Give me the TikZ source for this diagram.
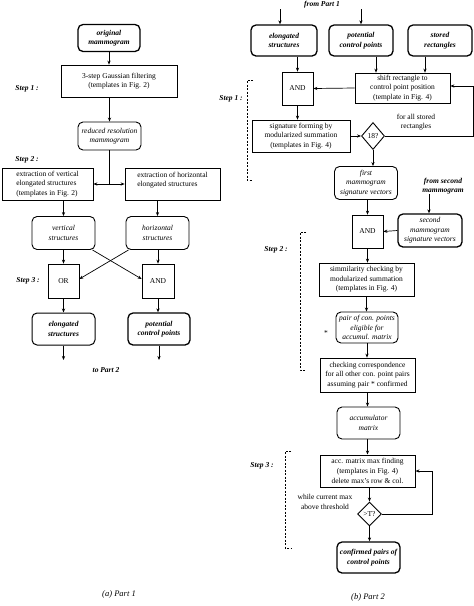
\documentclass[tikz,border=0pt]{standalone}
\usepackage{fontspec}
\setmainfont{Liberation Serif}
\usetikzlibrary{shapes.geometric,arrows.meta}
\begin{document}
\begin{tikzpicture}[x=1pt,y=-1pt,
  txt/.style={font=\fontsize{7.5}{9.6}\selectfont},
  sz/.style 2 args={minimum width=#1pt,minimum height=#2pt},
  sbox/.style={draw,align=center,inner sep=1pt,line width=0.7pt,txt},
  rbox/.style={draw,align=center,inner sep=1pt,rounded corners=5pt,line width=0.9pt,font=\fontsize{7.5}{9.6}\selectfont\itshape},
  rboxb/.style={rbox,line width=1.3pt,font=\fontsize{7.5}{9.6}\selectfont\bfseries\itshape},
  dia/.style={draw,diamond,inner sep=0pt,line width=0.9pt,txt},
  lab/.style={font=\fontsize{7.5}{9}\selectfont\bfseries\itshape,align=center},
  ilab/.style={font=\fontsize{7.5}{9}\selectfont\itshape,align=center},
  plab/.style={txt,align=center},
  arr/.style={-{Stealth[length=4pt,width=3.2pt]},line width=0.7pt},
  ln/.style={line width=0.7pt},
  brk/.style={line width=0.7pt,dash pattern=on 2pt off 1.5pt}
]
\useasboundingbox (0,0) rectangle (474,606);

% ---------------- Part 1 ----------------
\node[rboxb,sz={62}{27}] (orig) at (109,38) {original\\mammogram};
\node[sbox,sz={116}{32}] (gauss) at (119,81) {3-step Gaussian filtering\\(templates in Fig. 2)};
\node[rbox,sz={63}{28}] (reduced) at (109.5,136) {reduced resolution\\mammogram};
\node[sbox,sz={91}{32},align=left] (extV) at (47.5,184) {extraction of vertical\\elongated structures\\(templates in Fig. 2)};
\node[sbox,sz={95}{32},align=left] (extH) at (172.5,184) {extraction of horizontal\\elongated structures\\\mbox{}};
\node[rbox,sz={63}{33}] (vert) at (63.5,233) {vertical\\structures};
\node[rbox,sz={63}{33}] (horiz) at (157.5,233) {horizontal\\structures};
\node[sbox,sz={31}{34}] (OR) at (63.5,281) {OR};
\node[sbox,sz={32}{34}] (AND) at (158,281) {AND};
\node[rboxb,sz={63}{32},line width=1pt] (elong) at (63.5,329) {elongated\\structures};
\node[rboxb,sz={62}{32}] (pcp) at (159,329) {potential\\control points};

\node[lab] (s1) at (27,89) {Step 1 :};
\node[lab] (s2) at (27,160) {Step 2 :};
\node[lab] (s3) at (28,281) {Step 3 :};
\node[lab] (toP2) at (106,370) {to Part 2};
\node[lab,font=\fontsize{8.5}{10}\selectfont\itshape] (capA) at (119,594) {(a) Part 1};

\coordinate (j1) at (109.5,184);
\coordinate (o1) at (63.5,360);
\coordinate (o2) at (159,360);

\draw[arr] (orig.south) -- (orig.south |- gauss.north);
\draw[arr] (reduced.north |- gauss.south) -- (reduced.north);
\draw[ln] (reduced.south) -- (j1);
\draw[arr] (j1) -- (extV.east);
\draw[arr] (j1) -- (extH.west);
\draw[arr] (vert.north |- extV.south) -- (vert.north);
\draw[arr] (horiz.north |- extH.south) -- (horiz.north);
\draw[arr] (vert.south) -- (OR.north);
\draw[arr] (AND.north |- horiz.south) -- (AND.north);
\draw[arr] ([xshift=-3pt]vert.south east) -- ([yshift=2pt]AND.west);
\draw[arr] ([xshift=3pt]horiz.south west) -- ([yshift=2pt]OR.east);
\draw[arr] (OR.south) -- (elong.north);
\draw[arr] (AND.south) -- (AND.south |- pcp.north);
\draw[arr] (elong.south) -- (o1);
\draw[arr] (pcp.south) -- (o2);

% ---------------- Part 2 ----------------
\node[lab] (fromP1) at (322,4.5) {from Part 1};
\coordinate (fp1) at (280,9);
\coordinate (fp2) at (361,9);

\node[rboxb,sz={66}{31}] (elongR) at (284,40.5) {elongated\\structures};
\node[rboxb,sz={64}{31}] (potR) at (361,40.5) {potential\\control points};
\node[rboxb,sz={64}{31}] (stored) at (440,40.5) {stored\\rectangles};
\node[sbox,sz={31}{33}] (AND1) at (297.5,88.5) {AND};
\node[sbox,sz={95}{30}] (shift) at (402.5,88) {shift rectangle to\\control point position\\(template in Fig. 4)};
\node[sbox,sz={98}{32}] (sig) at (301,136) {signature forming by\\modularized summation\\(templates in Fig. 4)};
\node[dia,minimum width=23pt,minimum height=27pt] (d1) at (373,136) {18?};
\node[plab] (forall) at (416,122) {for all stored\\rectangles};
\node[rbox,sz={63}{33}] (first) at (366,183) {first\\mammogram\\signature vectors};
\node[lab] (fsecond) at (443,186) {from second\\mammogram};
\node[sbox,sz={31}{33}] (AND2) at (367.5,231.5) {AND};
\node[rboxb,sz={64}{33},font=\fontsize{7.5}{9.6}\selectfont\itshape] (second) at (430,230.5) {second\\mammogram\\signature vectors};
\node[sbox,sz={95}{33}] (sim) at (366.5,279.5) {simmilarity checking by\\modularized summation\\(templates in Fig. 4)};
\node[rbox,sz={62}{31}] (pair) at (367,327.5) {pair of con. points\\eligible for\\accumul. matrix};
\node[txt] (star) at (326,333) {*};
\node[sbox,sz={95}{34}] (check) at (367.5,375) {checking correspondence\\for all other con. point pairs\\assuming pair * confirmed};
\node[rbox,sz={63}{32}] (accum) at (368.5,423) {accumulator\\matrix};
\node[sbox,sz={95}{32},line width=1pt] (max) at (367.5,471) {acc. matrix max finding\\(templates in Fig. 4)\\delete max's row \& col.};
\node[dia,minimum width=24pt,minimum height=24pt] (d2) at (369.5,514) {>T?};
\node[plab] (while) at (325,502) {while current max\\above threshold};
\node[rboxb,sz={63}{31}] (conf) at (368.5,557.5) {confirmed pairs of\\control points};
\node[lab,font=\fontsize{8.5}{10}\selectfont\itshape] (capB) at (368,597) {(b) Part 2};

\node[lab] (rs1) at (231,99) {Step 1 :};
\node[lab] (rs2) at (276,250) {Step 2 :};
\node[lab] (rs3) at (262,466) {Step 3 :};

\coordinate (fsm) at (429,194);
\coordinate (lp1) at (473,136);
\coordinate (lp2) at (432,514);

\draw[arr] (fp1) -- (fp1 |- elongR.north);
\draw[arr] (fp2) -- (potR.north);
\draw[arr] (AND1.north |- elongR.south) -- (AND1.north);
\draw[arr] ([xshift=15pt]potR.south) -- ([xshift=15pt]potR.south |- shift.north);
\draw[arr] ([xshift=-15pt]stored.south) -- ([xshift=-15pt]stored.south |- shift.north);
\draw[arr] (shift.west) -- (AND1.east);
\draw[arr] (AND1.south) -- (AND1.south |- sig.north);
\draw[arr] (sig.east) -- (d1.west);
\draw[arr] (d1.east) -- (lp1) |- ([yshift=2pt]shift.east);
\draw[arr] (d1.south) -- (d1.south |- first.north);
\draw[arr] (AND2.north |- first.south) -- (AND2.north);
\draw[arr] (fsm) -- (fsm |- second.north);
\draw[arr] (second.west) -- (AND2.east);
\draw[arr] (AND2.south) -- (AND2.south |- sim.north);
\draw[arr] (sim.south) -- (sim.south |- pair.north);
\draw[arr] (pair.south) -- (pair.south |- check.north);
\draw[arr] (check.south) -- (check.south |- accum.north);
\draw[arr] (max.north |- accum.south) -- (max.north);
\draw[arr] (d2.north |- max.south) -- (d2.north);
\draw[arr] (d2.east) -- (lp2) |- (max.east);
\draw[arr] (d2.south) -- (d2.south |- conf.north);

% dashed step brackets
\draw[brk] (253,80) -- (247,80) -- (247,180) -- (253,180);
\draw[brk] (306,232) -- (300,232) -- (300,370) -- (306,370);
\draw[brk] (291,451) -- (285,451) -- (285,548) -- (291,548);
\end{tikzpicture}
\end{document}
